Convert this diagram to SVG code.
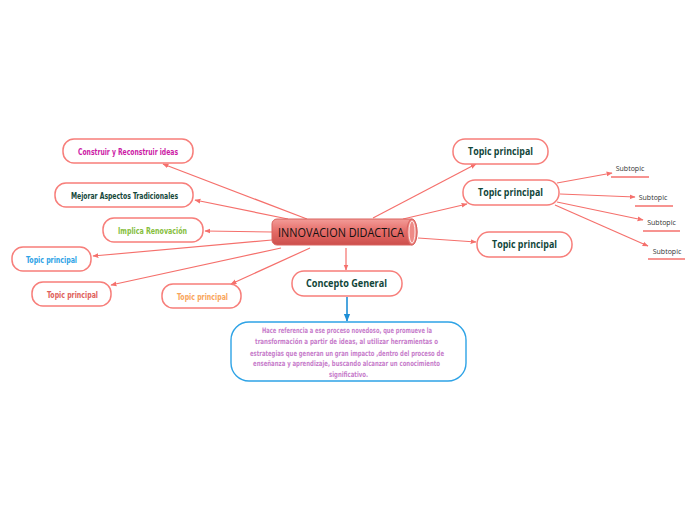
<svg xmlns="http://www.w3.org/2000/svg" width="696" height="520" viewBox="0 0 696 520">
<defs>
<marker id="ah" viewBox="0 0 10 10" refX="9" refY="5" markerWidth="6" markerHeight="6" orient="auto" markerUnits="userSpaceOnUse"><path d="M0,1 L10,5 L0,9 z" fill="#f5706c"/></marker>
<marker id="ahb" viewBox="0 0 10 10" refX="9" refY="5" markerWidth="8" markerHeight="8" orient="auto" markerUnits="userSpaceOnUse"><path d="M0,1 L10,5 L0,9 z" fill="#1f8fd6"/></marker>
<linearGradient id="cg" x1="0" y1="0" x2="0" y2="1">
<stop offset="0" stop-color="#f39c98"/>
<stop offset="0.5" stop-color="#e46a66"/>
<stop offset="1" stop-color="#cc4f4c"/>
</linearGradient>
</defs>
<style>
.n{fill:#fff;stroke:#f77e7a;stroke-width:1.5}
.c{fill:none;stroke:#f5706c;stroke-width:1.2;marker-end:url(#ah)}
.d{font-family:"DejaVu Sans Condensed","DejaVu Sans","Liberation Sans",sans-serif;font-size:9px;font-weight:bold;text-anchor:middle}
.b{font-family:"Open Sans","Noto Sans","Liberation Sans",sans-serif;font-size:10px;font-weight:bold;fill:#11463a;text-anchor:middle}
.s{font-family:"Open Sans","Liberation Sans",sans-serif;font-size:7px;fill:#333;text-anchor:middle}
.u{stroke:#f5706c;stroke-width:1.5}
.p{font-family:"DejaVu Sans Condensed","DejaVu Sans","Liberation Sans",sans-serif;font-size:7.5px;font-weight:bold;fill:#c77dcb;text-anchor:middle}
</style>
<rect width="696" height="520" fill="#fff"/>
<g id="connectors">
<line class="c" x1="307" y1="219" x2="163" y2="164"/>
<line class="c" x1="288" y1="219" x2="195" y2="200"/>
<line class="c" x1="272" y1="232" x2="205" y2="231"/>
<line class="c" x1="272" y1="240" x2="93" y2="256"/>
<line class="c" x1="281" y1="248" x2="111" y2="285"/>
<line class="c" x1="310" y1="248" x2="231" y2="284"/>
<line class="c" x1="346" y1="248" x2="346" y2="270"/>
<line class="c" x1="373" y1="218" x2="476" y2="164"/>
<line class="c" x1="403" y1="219" x2="467" y2="204"/>
<line class="c" x1="418" y1="238" x2="476" y2="242"/>
<line class="c" x1="557" y1="183" x2="612" y2="173"/>
<line class="c" x1="560" y1="194" x2="635" y2="197"/>
<line class="c" x1="557" y1="202" x2="643" y2="220"/>
<line class="c" x1="555" y1="205" x2="648" y2="246"/>
<line x1="347" y1="297" x2="347" y2="321" stroke="#1f8fd6" stroke-width="1.6" marker-end="url(#ahb)"/>
</g>
<g id="center">
<path d="M277,219 H412 A5,13 0 0 1 412,245 H277 A5,5 0 0 1 272,240 V224 A5,5 0 0 1 277,219 z" fill="url(#cg)" stroke="#d9625e" stroke-width="1"/>
<ellipse cx="412" cy="232" rx="5" ry="13" fill="#ee8a86" stroke="#d9625e" stroke-width="1"/>
<ellipse cx="412" cy="232" rx="3" ry="11" fill="none" stroke="#fff" stroke-width="1" opacity="0.8"/>
<text x="341" y="236.5" font-family="Open Sans, Liberation Sans, sans-serif" font-size="12" fill="#111" text-anchor="middle" textLength="126" lengthAdjust="spacingAndGlyphs">INNOVACION DIDACTICA</text>
</g>
<g id="n-construir">
<rect class="n" x="63" y="139" width="130" height="24" rx="11"/>
<text class="d" x="128" y="154.5" fill="#cc1aa6" textLength="100" lengthAdjust="spacingAndGlyphs">Construir y Reconstruir ideas</text>
</g>
<g id="n-mejorar">
<rect class="n" x="55" y="183" width="138" height="24" rx="11"/>
<text class="d" x="124.5" y="198.5" fill="#13473a" textLength="107" lengthAdjust="spacingAndGlyphs">Mejorar Aspectos Tradicionales</text>
</g>
<g id="n-implica">
<rect class="n" x="103" y="218" width="100" height="24" rx="11"/>
<text class="d" x="152.5" y="233.5" fill="#86be3c" textLength="69" lengthAdjust="spacingAndGlyphs">Implica Renovación</text>
</g>
<g id="n-topic-blue">
<rect class="n" x="12" y="247" width="79" height="24" rx="11"/>
<text class="d" x="51.5" y="262.5" fill="#2ea3e6" textLength="51" lengthAdjust="spacingAndGlyphs">Topic principal</text>
</g>
<g id="n-topic-red">
<rect class="n" x="32" y="282" width="79" height="24" rx="11"/>
<text class="d" x="72.5" y="297.5" fill="#e0605a" textLength="51" lengthAdjust="spacingAndGlyphs">Topic principal</text>
</g>
<g id="n-topic-orange">
<rect class="n" x="162" y="284" width="79" height="24" rx="11"/>
<text class="d" x="202.5" y="299.5" fill="#f9a55a" textLength="51" lengthAdjust="spacingAndGlyphs">Topic principal</text>
</g>
<g id="n-topic-r1">
<rect class="n" x="453" y="139" width="95" height="25" rx="12"/>
<text class="b" x="500.5" y="155" textLength="65" lengthAdjust="spacingAndGlyphs">Topic principal</text>
</g>
<g id="n-topic-r2">
<rect class="n" x="463" y="180" width="96" height="25" rx="12"/>
<text class="b" x="510.5" y="196" textLength="65" lengthAdjust="spacingAndGlyphs">Topic principal</text>
</g>
<g id="n-topic-r3">
<rect class="n" x="477" y="232" width="95" height="25" rx="12"/>
<text class="b" x="524.5" y="248" textLength="65" lengthAdjust="spacingAndGlyphs">Topic principal</text>
</g>
<g id="n-concepto">
<rect class="n" x="292" y="271" width="110" height="25" rx="12"/>
<text class="b" x="346.5" y="287" textLength="81" lengthAdjust="spacingAndGlyphs">Concepto General</text>
</g>
<g id="n-sub1">
<text class="s" x="630" y="171">Subtopic</text>
<line class="u" x1="611" y1="177" x2="649" y2="177"/>
</g>
<g id="n-sub2">
<text class="s" x="653" y="200">Subtopic</text>
<line class="u" x1="635" y1="206" x2="673" y2="206"/>
</g>
<g id="n-sub3">
<text class="s" x="661.5" y="225">Subtopic</text>
<line class="u" x1="643" y1="231" x2="680" y2="231"/>
</g>
<g id="n-sub4">
<text class="s" x="667" y="254">Subtopic</text>
<line class="u" x1="648" y1="259" x2="685" y2="259"/>
</g>
<g id="n-desc">
<rect x="231" y="322" width="235" height="59" rx="18" fill="#fff" stroke="#2ea3e6" stroke-width="1.4"/>
<text class="p" x="347" y="333" textLength="170" lengthAdjust="spacingAndGlyphs">Hace referencia a ese proceso novedoso, que promueve la</text>
<text class="p" x="346.5" y="344" textLength="183" lengthAdjust="spacingAndGlyphs">transformación a partir de ideas, al utilizar herramientas o</text>
<text class="p" x="347" y="355.5" textLength="194" lengthAdjust="spacingAndGlyphs">estrategias que generan un gran impacto ,dentro del proceso de</text>
<text class="p" x="346.5" y="366" textLength="187" lengthAdjust="spacingAndGlyphs">enseñanza y aprendizaje, buscando alcanzar un conocimiento</text>
<text class="p" x="348.5" y="377" textLength="39" lengthAdjust="spacingAndGlyphs">significativo.</text>
</g>
</svg>
